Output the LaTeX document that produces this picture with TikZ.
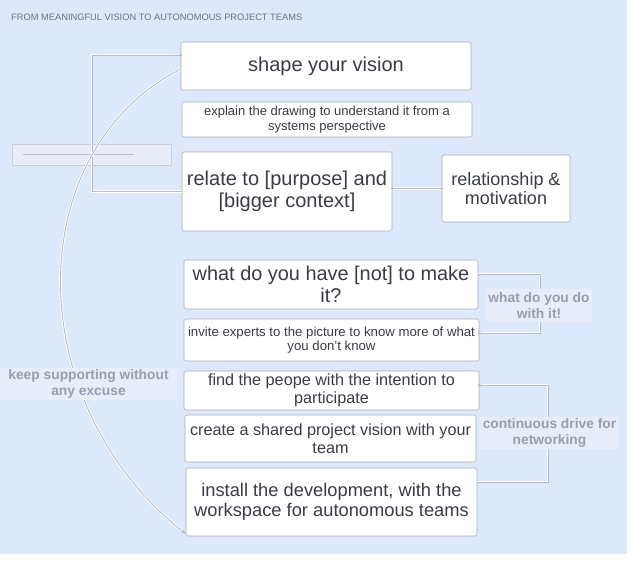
\documentclass[tikz,border=0pt]{standalone}
\usepackage{fontspec}
\setmainfont{Liberation Sans}
\usetikzlibrary{arrows.meta}
\definecolor{bg}{HTML}{DDE8FB}
\definecolor{boxline}{HTML}{A8ACB8}
\definecolor{txt}{HTML}{3A3D45}
\definecolor{lbltxt}{HTML}{9A9DB0}
\definecolor{lblfill}{HTML}{E9EDF9}
\definecolor{conncol}{HTML}{B9BCC7}
\definecolor{titlecol}{HTML}{6E7280}
\tikzset{
  card/.style={draw=boxline, fill=white, rounded corners=1.5pt, line width=0.6pt,
    text=txt, align=center, inner sep=2pt, anchor=center},
  lbl/.style={fill=lblfill, text=lbltxt, align=center, inner sep=1pt, font=\bfseries\fontsize{13.8}{16.5}\selectfont},
  conn/.style={draw=conncol, line width=0.9pt, preaction={draw=white, line width=2.6pt}},
  dotend/.style={circle, fill=conncol, inner sep=0pt, minimum size=3pt}
}
\begin{document}
\begin{tikzpicture}[x=1pt,y=-1pt]
\useasboundingbox (0,0) rectangle (631,560);
\fill[white] (0,0) rectangle (631,560);
\fill[bg] (0,0) rectangle (627,554);
\node[anchor=west, text=titlecol, font=\fontsize{9.3}{11}\selectfont, inner sep=0pt] (title) at (11,17) {FROM MEANINGFUL VISION TO AUTONOMOUS PROJECT TEAMS};

% cards
\node[card, minimum width=290pt, minimum height=48pt, font=\fontsize{20}{22}\selectfont] (shape) at (326,66) {shape your vision};
\node[card, minimum width=290pt, minimum height=35pt, font=\fontsize{13}{15}\selectfont] (explain) at (327,119.5) {explain the drawing to understand it from a\\ systems perspective};
\node[card, minimum width=210pt, minimum height=79pt, font=\fontsize{20}{22}\selectfont] (relate) at (287,191.5) {relate to [purpose] and\\{}[bigger context]};
\node[card, minimum width=128pt, minimum height=67pt, font=\fontsize{18}{19.5}\selectfont] (relmot) at (506,188.5) {relationship \&\\ motivation};
\node[card, minimum width=294pt, minimum height=49pt, font=\fontsize{19.9}{22}\selectfont] (have) at (331,284.5) {what do you have [not] to make\\ it?};
\node[card, minimum width=295pt, minimum height=42pt, font=\fontsize{13.2}{14.5}\selectfont] (invite) at (331.5,340) {invite experts to the picture to know more of what\\ you don't know};
\node[card, minimum width=295pt, minimum height=39pt, font=\fontsize{16.2}{18}\selectfont] (find) at (331.5,390.5) {find the peope with the intention to\\ participate};
\node[card, minimum width=291pt, minimum height=47pt, font=\fontsize{16.2}{18}\selectfont] (create) at (330.5,438.5) {create a shared project vision with your\\ team};
\node[card, minimum width=291pt, minimum height=68pt, font=\fontsize{18.3}{20}\selectfont] (install) at (331.5,502) {install the development, with the\\ workspace for autonomous teams};

% empty left card
\node[draw=boxline!60, fill=lblfill, minimum width=159pt, minimum height=21pt, inner sep=0pt, line width=0.4pt] (empty) at (91.5,154.5) {};
\draw[conncol, line width=0.6pt] ([xshift=11pt]empty.west) -- ([xshift=-37pt]empty.east);

% connectors
\coordinate (bl) at (92,55);
\draw[conn] (shape.west |- bl) -- (bl) -- (bl |- relate.west) -- (relate.west);
\node[dotend] at (shape.west |- bl) {};

\coordinate (arcS) at ([yshift=-3pt]shape.west);
\coordinate (arcE) at ([yshift=-32pt]install.west);
\draw[conn, -{Stealth[length=5pt,width=4pt]}] (arcS) .. controls (22,150) and (18,400) .. (arcE);

\draw[conn] (relate.east |- relmot.west) -- (relmot.west);
\node[dotend] at (relate.east |- relmot.west) {};
\node[dotend] at (relmot.west) {};

\coordinate (r1) at (540,0);
\draw[conn] ([yshift=10.5pt]have.east) -- ([yshift=10.5pt]have.east -| r1) -- ([yshift=7pt]invite.east -| r1) -- ([yshift=7pt]invite.east);
\node[dotend] at ([yshift=7pt]invite.east) {};
\node[lbl, minimum width=106pt, minimum height=33pt] (l1) at (539,305.5) {what do you do\\ with it!};

\coordinate (r2) at (548,0);
\draw[conn] ([yshift=5.5pt]find.east) -- ([yshift=5.5pt]find.east -| r2) -- ([yshift=20pt]install.east -| r2) -- ([yshift=20pt]install.east);
\node[dotend] at ([yshift=5.5pt]find.east) {};
\node[lbl, minimum width=139pt, minimum height=32pt] (l2) at (549.5,433) {continuous drive for\\ networking};

\node[lbl, minimum width=177pt, minimum height=32pt] (l3) at (88.5,384) {keep supporting without\\ any excuse};
\end{tikzpicture}
\end{document}
